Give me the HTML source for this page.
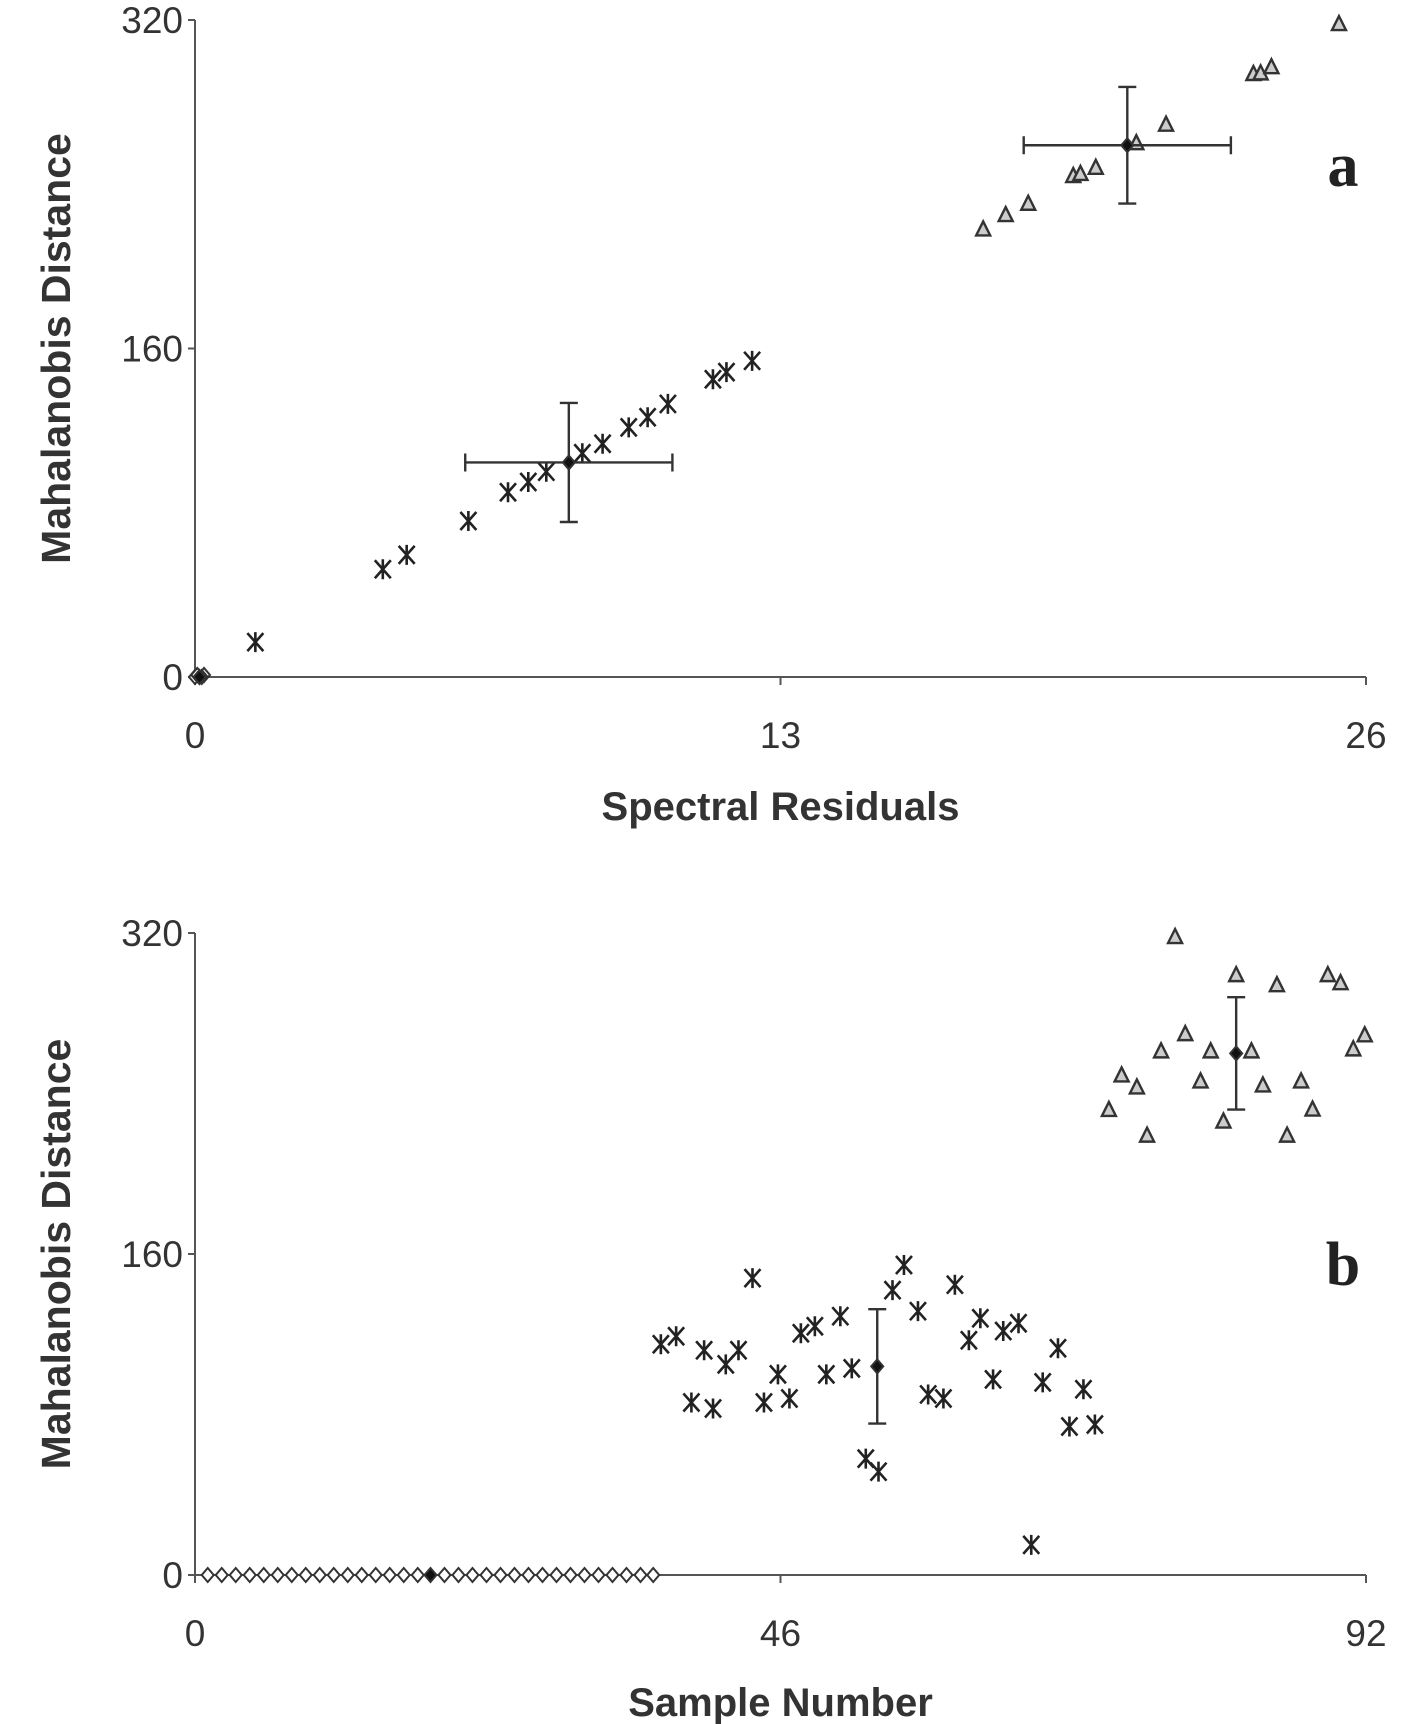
<!DOCTYPE html>
<html><head><meta charset="utf-8"><style>
body{margin:0;background:#fff}
svg{display:block}
</style></head><body>
<svg id="c" width="1419" height="1724" viewBox="0 0 1419 1724" xmlns="http://www.w3.org/2000/svg"></svg>
<script>
// Panel a data
const aDiaX=[0,0.1,0.2,0.05,0.15];
const aDiaY=[0,0,1,1,0];
const aStarX=[1.34,4.17,4.7,6.07,6.95,7.4,7.8,8.6,9.05,9.63,10.05,10.5,11.5,11.8,12.37];
const aStarY=[17,52.5,59.5,76,90,95,100,109,113.6,121.6,126.5,133,145,148.5,154];
const aTriX=[17.5,18.0,18.5,19.5,19.66,20,20.9,21.56,23.5,23.66,23.9,25.4];
const aTriY=[218,225,230.5,244,245,248,260,269,293.7,294,297,318];
const aMeans=[[0.1,0,0,0],[8.3,104.5,2.3,29],[20.7,259,2.3,28.4]];
// Panel b data
const bDiaX=[1,2.1,3.2,4.3,5.4,6.5,7.6,8.7,9.8,10.9,12,13.1,14.2,15.3,16.4,17.5,19.6,20.7,21.8,22.9,24,25.1,26.2,27.3,28.4,29.5,30.6,31.7,32.8,33.9,35,36];
const bStarX=[36.6,37.8,39,40,40.7,41.7,42.7,43.8,44.7,45.8,46.7,47.6,48.7,49.6,50.7,51.6,52.7,53.7,54.8,55.7,56.8,57.6,58.8,59.7,60.8,61.7,62.7,63.5,64.7,65.7,66.6,67.8,68.7,69.8,70.7];
const bStarY=[115,119,86,112,83,105,112,148,86,100,88,120.5,124,100,129,103,58,51.5,142,154.5,131.5,90,88,144.7,117,128,97.5,121.6,125.5,15,96,113,74,92.6,75];
const bTriX=[71.8,72.8,74,74.8,75.9,77,77.8,79,79.8,80.8,81.8,83,83.9,85,85.8,86.9,87.8,89,90,91,91.9];
const bTriY=[231.8,249,243,219,261,318,269.6,246,261,226,299,261,244,294,219,246,232,299,295,262,269];
const bMeans=[[18.5,0,0],[53.6,104,28.5],[81.8,260,28]];
const aXTicks=[0,13,26], bXTicks=[0,46,92], yTicks=[0,160,320];

const NS="http://www.w3.org/2000/svg";
const svg=document.getElementById('c');
function mk(t,a,p){const e=document.createElementNS(NS,t);for(const k in a)e.setAttribute(k,a[k]);(p||svg).appendChild(e);return e;}
const ax={x0:195,x1:1366};
function panel(top,bot,xmax,name){
  const g=mk('g',{});
  
  
  return {g,sx:v=>ax.x0+(ax.x1-ax.x0)*v/xmax,sy:v=>bot-(bot-top)*v/320,top,bot};
}
function axes(P,xt,xlabel,letter,lx,ly,xlY,tlY){
  const g=P.g;
  let e=mk('line',{x1:ax.x0,y1:P.top,x2:ax.x0,y2:P.bot,stroke:'#555','stroke-width':2},g);
  
  e=mk('line',{x1:ax.x0,y1:P.bot,x2:ax.x1,y2:P.bot,stroke:'#555','stroke-width':2},g);
  
  yTicks.forEach(t=>{const y=P.sy(t);
    mk('line',{x1:ax.x0-7,y1:y,x2:ax.x0,y2:y,stroke:'#555','stroke-width':2},g);
    const tx=mk('text',{x:ax.x0-12,y:y+13,'text-anchor':'end','font-family':'Liberation Sans, sans-serif','font-size':37,fill:'#333'},g);
    tx.textContent=t;
    
  });
  xt.forEach(t=>{const x=P.sx(t);
    mk('line',{x1:x,y1:P.bot,x2:x,y2:P.bot+8,stroke:'#555','stroke-width':2},g);
    const tx=mk('text',{x:x,y:tlY,'text-anchor':'middle','font-family':'Liberation Sans, sans-serif','font-size':37,fill:'#333'},g);
    tx.textContent=t;
    
  });
  let t=mk('text',{x:P.sx(xt[1]),y:xlY,'text-anchor':'middle','font-family':'Liberation Sans, sans-serif','font-size':40,'font-weight':'bold',fill:'#333'},g);
  t.textContent=xlabel;
  const cy=(P.top+P.bot)/2;
  t=mk('text',{x:70,y:cy,'text-anchor':'middle','font-family':'Liberation Sans, sans-serif','font-size':41,'font-weight':'bold',fill:'#333',transform:`rotate(-90 70 ${cy})`},g);
  t.textContent='Mahalanobis Distance';
  t=mk('text',{x:lx,y:ly,'text-anchor':'middle','font-family':'Liberation Serif, serif','font-size':62,'font-weight':'bold',fill:'#222'},g);
  t.textContent=letter;
}
function star(g,x,y){const s=mk('g',{stroke:'#222','stroke-width':2.6,fill:'none'},g);
  
  mk('path',{d:`M${x-8} ${y-9}L${x+8} ${y+9}M${x+8} ${y-9}L${x-8} ${y+9}M${x} ${y-10}L${x} ${y+10}`},s);}
function tri(g,x,y){const p=mk('path',{d:`M${x} ${y-8}L${x+7} ${y+6}L${x-7} ${y+6}Z`,stroke:'#333','stroke-width':2.4,fill:'#ccc'},g);
  }
function dia(g,x,y,f){const p=mk('path',{d:`M${x} ${y-7}L${x+6} ${y}L${x} ${y+7}L${x-6} ${y}Z`,stroke:'#333','stroke-width':2,fill:f?'#111':'#fff'},g);
  }
function errV(g,x,y0,y1){const e=mk('path',{d:`M${x} ${y0}L${x} ${y1}M${x-9} ${y0}L${x+9} ${y0}M${x-9} ${y1}L${x+9} ${y1}`,stroke:'#333','stroke-width':2.4,fill:'none'},g);
  }
function errH(g,y,x0,x1){const e=mk('path',{d:`M${x0} ${y}L${x1} ${y}M${x0} ${y-9}L${x0} ${y+9}M${x1} ${y-9}L${x1} ${y+9}`,stroke:'#333','stroke-width':2.4,fill:'none'},g);
  }

// Panel a
const A=panel(20,677,26,'panel-a');
axes(A,aXTicks,'Spectral Residuals','a',1343,186,820,748);
aDiaX.forEach((v,i)=>dia(A.g,A.sx(v),A.sy(aDiaY[i]),false));
aStarX.forEach((v,i)=>star(A.g,A.sx(v),A.sy(aStarY[i])));
aTriX.forEach((v,i)=>tri(A.g,A.sx(v),A.sy(aTriY[i])));
aMeans.forEach(m=>{const x=A.sx(m[0]),y=A.sy(m[1]);
  if(m[3]>0){errV(A.g,x,A.sy(m[1]+m[3]),A.sy(m[1]-m[3]));errH(A.g,y,A.sx(m[0]-m[2]),A.sx(m[0]+m[2]));}
  dia(A.g,x,y,true);});

// Panel b
const B=panel(933,1575,92,'panel-b');
axes(B,bXTicks,'Sample Number','b',1343,1285,1716,1646);
bDiaX.forEach(v=>dia(B.g,B.sx(v),B.sy(0),false));
bStarX.forEach((v,i)=>star(B.g,B.sx(v),B.sy(bStarY[i])));
bTriX.forEach((v,i)=>tri(B.g,B.sx(v),B.sy(bTriY[i])));
bMeans.forEach(m=>{const x=B.sx(m[0]),y=B.sy(m[1]);
  if(m[2]>0)errV(B.g,x,B.sy(m[1]+m[2]),B.sy(m[1]-m[2]));
  dia(B.g,x,y,true);});
</script>
</body></html>
